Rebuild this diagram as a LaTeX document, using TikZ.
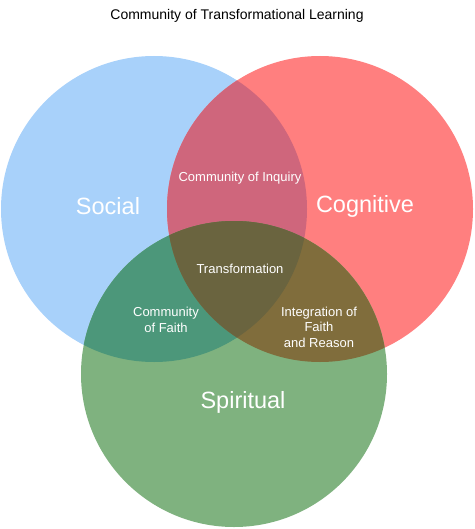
\documentclass[tikz,border=0pt]{standalone}
\usepackage{fontspec}
\setmainfont{Liberation Sans}
\definecolor{socialblue}{RGB}{168,209,250}
\definecolor{cogred}{RGB}{255,127,127}
\definecolor{spiritgreen}{RGB}{127,178,127}
\definecolor{inquiry}{RGB}{207,102,124}
\definecolor{faith}{RGB}{76,151,122}
\definecolor{reason}{RGB}{128,109,60}
\definecolor{transform}{RGB}{106,100,63}
\begin{document}
\begin{tikzpicture}[x=1pt,y=-1pt,
    circlelabel/.style={text=white, font=\fontsize{23.5}{28}\selectfont},
    lenslabel/.style={text=white, font=\fontsize{13}{15.5}\selectfont, align=center}]
    \useasboundingbox (0,0) rectangle (474,529);

    % Title
    \node[font=\fontsize{14}{17}\selectfont] (title) at (237,16) {Community of Transformational Learning};

    % Circles
    \fill[socialblue] (154,209) circle (153);
    \fill[cogred] (320,209) circle (153);
    \fill[spiritgreen] (234,374) circle (153);

    % Social and Cognitive
    \begin{scope}
        \clip (154,209) circle (153);
        \fill[inquiry] (320,209) circle (153);
    \end{scope}

    % Social and Spiritual
    \begin{scope}
        \clip (154,209) circle (153);
        \fill[faith] (234,374) circle (153);
    \end{scope}

    % Cognitive and Spiritual
    \begin{scope}
        \clip (320,209) circle (153);
        \fill[reason] (234,374) circle (153);
    \end{scope}

    % All three
    \begin{scope}
        \clip (154,209) circle (153);
        \clip (320,209) circle (153);
        \fill[transform] (234,374) circle (153);
    \end{scope}

    % Labels
    \node[circlelabel] (social) at (108,206) {Social};
    \node[circlelabel] (cognitive) at (365,206) {Cognitive};
    \node[circlelabel] (spiritual) at (243,402) {Spiritual};
    \node[lenslabel] (inquirylbl) at (240,178) {Community of Inquiry};
    \node[lenslabel] (transformlbl) at (240,269) {Transformation};
    \node[lenslabel] (faithlbl) at (166,320) {Community\\of Faith};
    \node[lenslabel] (reasonlbl) at (319,327) {Integration of\\Faith\\and Reason};
\end{tikzpicture}
\end{document}
